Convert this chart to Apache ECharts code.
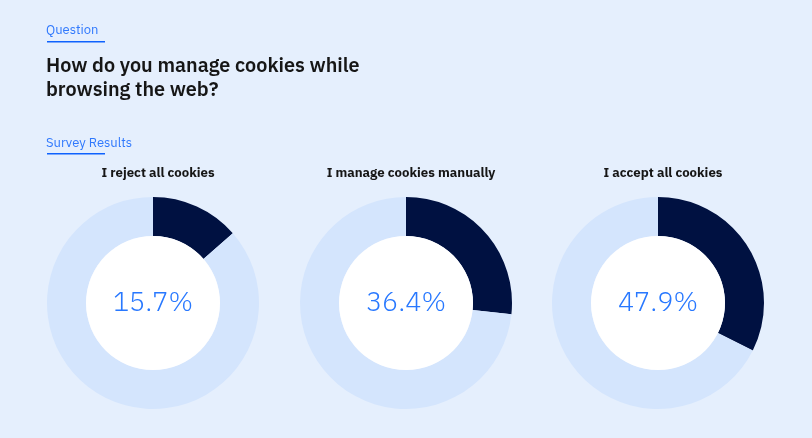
<!DOCTYPE html>
<html>
<head>
    <meta charset="UTF-8">
    <title>Cookie Survey</title>
    <script src="https://cdn.jsdelivr.net/npm/echarts@6/dist/echarts.min.js"></script>
    <style>
        html, body { margin: 0; padding: 0; background: #e5effd; }
        #chart { width: 812px; height: 438px; }
    </style>
</head>
<body>
<div id="chart"></div>
<script>
    // survey answers and their share (percent)
    var answers = ['I reject all cookies', 'I manage cookies manually', 'I accept all cookies'];
    var shares = [15.7, 36.4, 47.9];
    // the light part of each ring is drawn as a fixed 100
    var restValue = 100;

    var centersX = [153, 406, 658];
    var centerY = 303;
    var font = '"IBM Plex Sans", "Noto Sans", sans-serif';

    var myChart = echarts.init(document.getElementById('chart'));

    var titles = [
        {
            text: 'Question', left: 41, top: 19,
            textStyle: {fontFamily: font, fontSize: 13, fontWeight: 'normal', color: '#2f78fd'}
        },
        {
            text: 'How do you manage cookies while\nbrowsing the web?', left: 41, top: 49,
            textStyle: {fontFamily: font, fontSize: 19.8, fontWeight: 600, color: '#161616', lineHeight: 24}
        },
        {
            text: 'Survey Results', left: 41, top: 132,
            textStyle: {fontFamily: font, fontSize: 13, fontWeight: 'normal', color: '#2f78fd'}
        }
    ];
    var series = [];

    answers.forEach(function (name, i) {
        titles.push({
            text: name, left: centersX[i], top: 162, textAlign: 'center',
            textStyle: {fontFamily: font, fontSize: 13.2, fontWeight: 'bold', color: '#161616'}
        });
        // outer ring
        series.push({
            type: 'pie',
            silent: true,
            center: [centersX[i], centerY],
            radius: [67, 106],
            startAngle: 90,
            clockwise: true,
            label: {show: false},
            labelLine: {show: false},
            data: [
                {value: shares[i], name: name, itemStyle: {color: '#001141'}},
                {value: restValue, name: 'rest', itemStyle: {color: '#d4e5fd'}}
            ]
        });
        // white disc with the number
        series.push({
            type: 'pie',
            silent: true,
            center: [centersX[i], centerY],
            radius: [0, 67],
            label: {
                show: true,
                position: 'center',
                formatter: shares[i].toFixed(1) + '%',
                fontFamily: font,
                fontSize: 27,
                fontWeight: 300,
                color: '#2878ff',
                padding: [4, 0, 0, 0]
            },
            labelLine: {show: false},
            data: [{value: 1, name: name, itemStyle: {color: '#ffffff'}}]
        });
    });

    myChart.setOption({
        backgroundColor: '#e5effd',
        animation: false,
        title: titles,
        graphic: [
            {type: 'rect', shape: {x: 47, y: 41, width: 58, height: 1.5}, style: {fill: '#0f62fe'}},
            {type: 'rect', shape: {x: 47, y: 153, width: 58, height: 1.5}, style: {fill: '#0f62fe'}}
        ],
        series: series
    });
</script>
</body>
</html>
